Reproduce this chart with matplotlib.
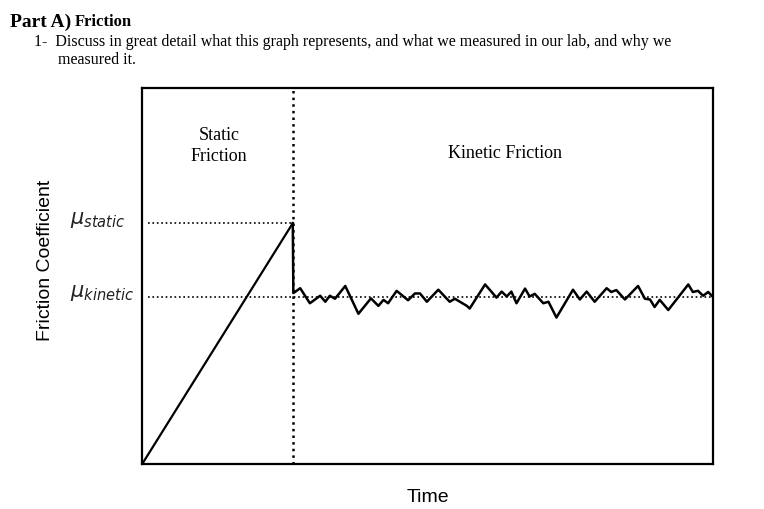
import matplotlib.pyplot as plt

# time in % of the window, friction coefficient in axis fraction
mu_static = 0.641
mu_kinetic = 0.444
t_slip = 26.4

ramp_t = [0.0, t_slip]
ramp_mu = [0.0, mu_static]

kin_t = [26.4, 26.5, 27.7, 29.4, 31.2, 32.1, 32.9, 33.8, 35.6, 37.9, 40.1, 41.4, 42.3, 43.1,
         44.6, 46.6, 47.8, 48.7, 49.9, 51.9, 53.9, 54.8, 56.9, 57.4, 60.1, 62.1, 63.0, 63.9,
         64.7, 65.6, 67.1, 67.9, 68.8, 70.3, 71.2, 72.6, 75.5, 76.7, 77.9, 79.3, 81.4, 82.2,
         83.1, 84.6, 86.9, 88.1, 89.0, 89.8, 90.7, 92.2, 95.7, 96.5, 97.4, 98.3, 99.2, 99.8]
kin_mu = [0.641, 0.455, 0.468, 0.428, 0.448, 0.432, 0.448, 0.440, 0.474, 0.400, 0.441, 0.421,
          0.437, 0.428, 0.461, 0.436, 0.454, 0.454, 0.432, 0.464, 0.432, 0.440, 0.421, 0.414,
          0.478, 0.443, 0.459, 0.446, 0.459, 0.428, 0.467, 0.446, 0.453, 0.428, 0.432, 0.390,
          0.464, 0.438, 0.459, 0.432, 0.468, 0.458, 0.463, 0.438, 0.474, 0.440, 0.438, 0.418,
          0.437, 0.410, 0.478, 0.458, 0.461, 0.448, 0.458, 0.448]

serif = 'Liberation Serif'
sans = 'Liberation Sans'

fig = plt.figure(figsize=(7.64, 5.10), dpi=100)
ax = fig.add_axes([0.186, 0.088, 0.747, 0.737])

ax.plot(ramp_t, ramp_mu, color='black', lw=1.6)
ax.plot(kin_t, kin_mu, color='black', lw=1.8)
ax.axvline(t_slip, color='black', ls=':', lw=1.8)
ax.plot([1, t_slip], [mu_static, mu_static], color='black', ls=':', lw=1.2)
ax.plot([1, 100], [mu_kinetic, mu_kinetic], color='black', ls=':', lw=1.2)

ax.set_xlim(0, 100)
ax.set_ylim(0, 1)
ax.set_xticks([])
ax.set_yticks([])
for s in ax.spines.values():
    s.set_linewidth(1.6)

ax.text(13.5, 0.85, 'Static\nFriction', ha='center', va='center', fontsize=13,
        family=serif, linespacing=1.3)
ax.text(63.5, 0.83, 'Kinetic Friction', ha='center', va='center', fontsize=13, family=serif)
ax.text(-12.6, mu_static + 0.01, r'$\mathit{\mu_{static}}$', ha='left', va='center',
        fontsize=15, color='#222222')
ax.text(-12.6, mu_kinetic + 0.015, r'$\mathit{\mu_{kinetic}}$', ha='left', va='center',
        fontsize=15, color='#222222')
ax.set_xlabel('Time', fontsize=14, family=sans, labelpad=17)
fig.text(0.059, 0.49, 'Friction Coefficient', rotation=90, ha='center', va='center',
         fontsize=14, family=sans)

fig.text(0.013, 0.957, 'Part A)', fontsize=14, family=serif, weight='bold', va='center')
fig.text(0.098, 0.957, 'Friction', fontsize=12, family=serif, weight='bold', va='center')
fig.text(0.045, 0.918, '1-  Discuss in great detail what this graph represents, and what we measured in our lab, and why we',
         fontsize=11.5, family=serif, va='center')
fig.text(0.076, 0.882, 'measured it.', fontsize=11.5, family=serif, va='center')

fig.savefig('out.png', dpi=100)
